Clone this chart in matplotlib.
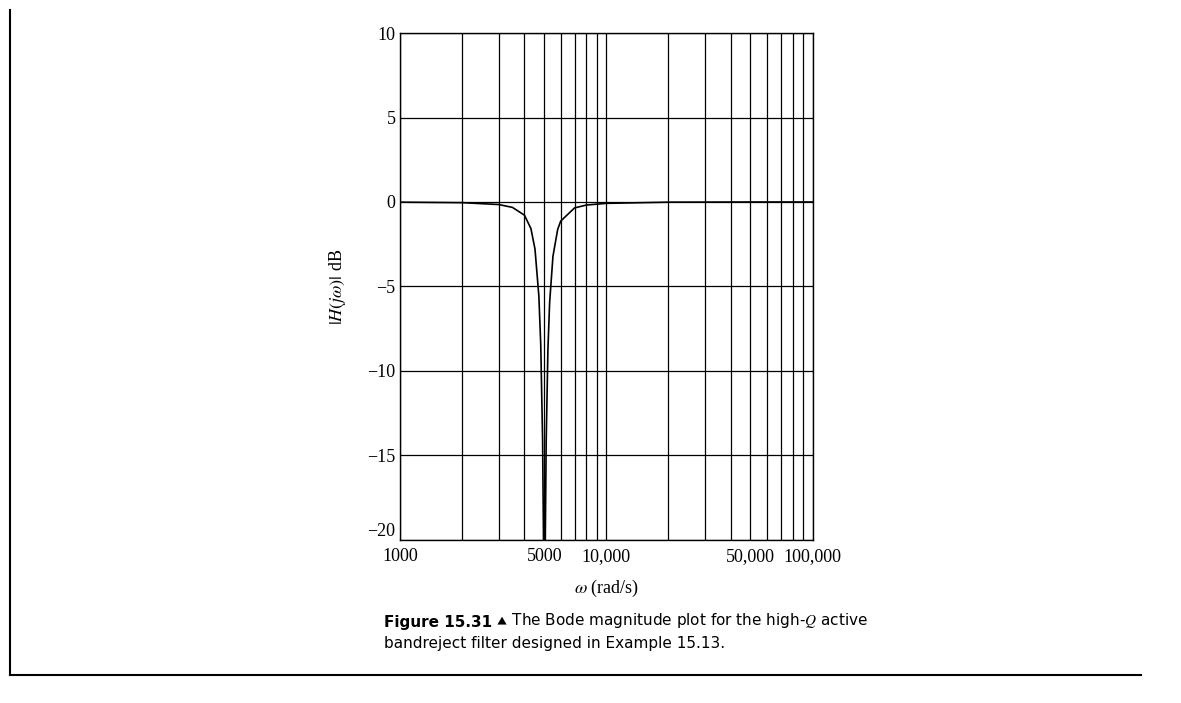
import matplotlib.pyplot as plt
from matplotlib.ticker import FixedLocator, NullFormatter

# values (rad/s, dB)
omega = [1000, 2000, 3000, 3500, 4000, 4300, 4500, 4700, 4800, 4900, 4950, 5000,
         5050, 5100, 5200, 5300, 5500, 5800, 6000, 7000, 8000, 10000, 20000, 50000, 100000]
mag_db = [-0.01, -0.04, -0.15, -0.32, -0.78, -1.57, -2.78, -5.57, -8.45, -14.1, -20.0, -20.0,
          -20.0, -14.2, -8.75, -5.96, -3.22, -1.62, -1.13, -0.35, -0.18, -0.08, -0.01, 0.0, 0.0]

xtick_pos = [1000, 5000, 10000, 50000, 100000]
xtick_lab = ["1000", "5000", "10,000", "50,000", "100,000"]
ytick_pos = [-20, -15, -10, -5, 0, 5, 10]
ytick_lab = ["\u221220", "\u221215", "\u221210", "\u22125", "0", "5", "10"]

plt.rcParams["font.family"] = ["Liberation Serif", "DejaVu Serif"]
plt.rcParams["mathtext.fontset"] = "stix"

fig = plt.figure(figsize=(11.81, 7.03), dpi=100)
ax = fig.add_axes([0.339, 0.232, 0.349, 0.721])
ax.semilogx(omega, mag_db, color="black", lw=1.2)
ax.set_xlim(1000, 100000)
ax.set_ylim(-20, 10)

minor = [m * d for d in (1000, 10000) for m in range(2, 10)]
ax.xaxis.set_major_locator(FixedLocator([1000, 10000, 100000]))
ax.xaxis.set_minor_locator(FixedLocator(minor))
ax.xaxis.set_major_formatter(NullFormatter())
ax.xaxis.set_minor_formatter(NullFormatter())
ax.grid(True, which="both", color="black", lw=0.9)
ax.tick_params(which="both", length=0)
for x, lab in zip(xtick_pos, xtick_lab):
    ax.text(x, -20.5, lab, ha="center", va="top", fontsize=13)
ax.set_yticks(ytick_pos)
ax.set_yticklabels(ytick_lab, fontsize=13)
ax.get_yticklabels()[0].set_verticalalignment("bottom")
for s in ax.spines.values():
    s.set_linewidth(1.0)

ax.set_xlabel(r"$\omega$ (rad/s)", fontsize=13, labelpad=24)
ax.set_ylabel(r"$|H(j\omega)|$ dB", fontsize=13, labelpad=14)

t1 = fig.text(0.325, 0.108, "Figure 15.31", fontsize=11, family="DejaVu Sans", weight="bold")
fig.text(0, 0, "", transform=fig.transFigure)
ax.annotate(r" $\blacktriangle$ The Bode magnitude plot for the high-$Q$ active",
            xy=(1, 0), xycoords=t1, va="bottom", fontsize=11, family="DejaVu Sans",
            annotation_clip=False)
fig.text(0.325, 0.078, "bandreject filter designed in Example 15.13.", fontsize=11, family="DejaVu Sans")

fig.add_artist(plt.Line2D([0.0085, 0.0085], [0.04, 0.986], color="black", lw=1.5, transform=fig.transFigure))
fig.add_artist(plt.Line2D([0.0085, 0.966], [0.04, 0.04], color="black", lw=1.5, transform=fig.transFigure))

fig.savefig("out.png", dpi=100)
